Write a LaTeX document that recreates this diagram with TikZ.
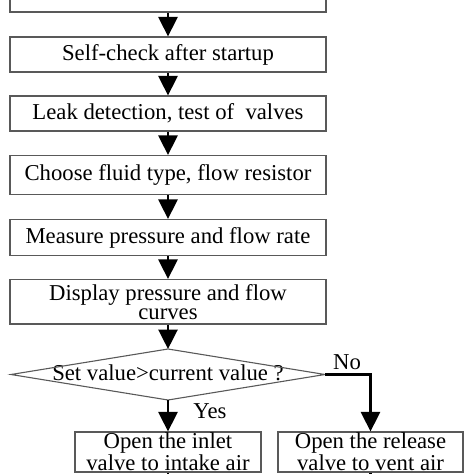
\documentclass[tikz,border=0pt]{standalone}
\usepackage{fontspec}
\setmainfont{Liberation Serif}
\usetikzlibrary{arrows.meta}
\begin{document}
\begin{tikzpicture}[x=1pt,y=-1pt,
  box/.style={draw=black!65, line width=1.1pt, inner sep=0pt, align=center,
    font=\fontsize{22.7}{19}\selectfont},
  flow/.style={line width=2.8pt, -{Triangle[width=19pt,length=19.5pt]}},
  plain/.style={line width=2.8pt},
  lbl/.style={font=\fontsize{22.7}{19}\selectfont, inner sep=0pt}]
\useasboundingbox (0,0) rectangle (474,474);
\clip (0,0) rectangle (474,474);
\node[box, minimum width=316pt, minimum height=40pt] (b1) at (168,-8) {};
\node[box, minimum width=316pt, minimum height=35pt] (b2) at (168,54.5) {Self-check after startup};
\node[box, minimum width=316pt, minimum height=35pt] (b3) at (168,113.5) {Leak detection, test of\ \ valves};
\node[box, minimum width=316pt, minimum height=39pt] (b4) at (168,175) {Choose fluid type, flow resistor};
\node[box, minimum width=316pt, minimum height=36pt] (b5) at (168,237.5) {Measure pressure and flow rate};
\node[box, minimum width=316pt, minimum height=44.5pt] (b6) at (168,301.75) {Display pressure and flow\\curves};
\node[lbl] (dec) at (168,373) {Set value>current value ?};
\coordinate (dT) at (168,349);
\coordinate (dB) at (168,400);
\coordinate (dL) at (11,374.5);
\coordinate (dR) at (325,374.5);
\draw[draw=black!65, line width=1.1pt] (dT) -- (dR) -- (dB) -- (dL) -- cycle;
\node[box, minimum width=186pt, minimum height=40pt] (b7) at (168,452) {Open the inlet\\valve to intake air};
\node[box, minimum width=185pt, minimum height=40pt] (b8) at (370.5,452) {Open the release\\valve to vent air};
\coordinate (e7) at (168,490);
\coordinate (e8) at (370.5,490);
\draw[flow] (b1.south) -- (b2.north);
\draw[flow] (b2.south) -- (b3.north);
\draw[flow] (b3.south) -- (b4.north);
\draw[flow] (b4.south) -- (b5.north);
\draw[flow] (b5.south) -- (b6.north);
\draw[flow] (b6.south) -- (dT);
\draw[flow] (dB) -- (b7.north);
\draw[flow] (dR) -| (b8.north);
\draw[plain] (b7.south) -- (e7);
\draw[plain] (b8.south) -- (e8);
\node[lbl] (yes) at (210,411) {Yes};
\node[lbl] (no) at (347,362) {No};
\end{tikzpicture}
\end{document}
